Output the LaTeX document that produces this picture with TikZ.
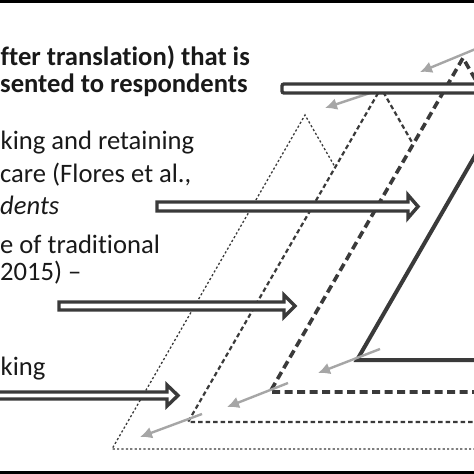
\documentclass[tikz,border=0pt]{standalone}
\usepackage{fontspec}
\setmainfont{Carlito}[Ligatures=NoCommon]
\usetikzlibrary{arrows.meta}
\definecolor{ink}{HTML}{3A3A3A}
\definecolor{greyarrow}{HTML}{A6A6A6}
\newcommand{\legendsize}{\fontsize{26.6}{31}\selectfont}
\tikzset{
  legendtext/.style={anchor=base west, inner sep=0pt, text=black!90, font=\legendsize},
  finedots/.style={ink, line width=1.3pt, dash pattern=on 2.2pt off 2.2pt},
  middash/.style={ink, line width=2.2pt, dash pattern=on 4.5pt off 3pt},
  bigdash/.style={ink, line width=3.6pt, dash pattern=on 8pt off 4.5pt},
  solidside/.style={ink, line width=4pt},
  pointer/.style={greyarrow, line width=2.4pt, -{Latex[length=12pt,width=12pt]}},
  hollow/.style={draw=ink, fill=white, line width=3.4pt, line join=miter}
}
\begin{document}
\begin{tikzpicture}[x=1pt, y=-1pt]
                 \clip (0,0) rectangle (474,474);
                 \fill[white] (0,0) rectangle (474,474);
                 % frame bars
                 \fill[black] (0,0) rectangle (474,3);
                 \fill[black] (0,471) rectangle (474,474);
                 % text
                 \node[legendtext, font=\bfseries\legendsize] (topA) at (0.5,65) {fter translation) that is};
                 \node[legendtext, font=\bfseries\legendsize] (topB) at (0,92) {sented to respondents};
                 \node[legendtext] (midA) at (0.5,149) {king and retaining};
                 \node[legendtext] (midB) at (0,182) {care (Flores et al.,};
                 \node[legendtext, font=\itshape\legendsize] (midC) at (0,214) {dents};
                 \node[legendtext] (lowA) at (0,253) {e of traditional};
                 \node[legendtext] (lowB) at (0,280) {2015) --};
                 \node[legendtext] (lastA) at (0.5,375) {king};
                 % corners and apexes
                 \coordinate (dotsL) at (112,449);
                 \coordinate (dotsT) at (305,115);
                 \coordinate (dotsR) at (335,167);
                 \coordinate (midL) at (188,422);
                 \coordinate (midT) at (381,88);
                 \coordinate (midR) at (413,144);
                 \coordinate (bigL) at (270,392);
                 \coordinate (bigT) at (463,58);
                 \coordinate (bigR) at (490,105);
                 \coordinate (solidL) at (357,360);
                 \coordinate (solidT) at (480,147);
                 % layers
                 \draw[finedots] (480,449) -- (dotsL) -- (dotsT) -- (dotsR);
                 \draw[middash] (480,422) -- (midL) -- (midT) -- (midR);
                 \draw[bigdash] (480,392) -- (bigL) -- (bigT) -- (bigR);
                 \draw[solidside] (480,360) -- (solidL) -- (solidT);
                 % grey pointers
                 \draw[pointer] (478,48) -- (420,72);
                 \draw[pointer] (385,88) -- (325,108);
                 \draw[pointer] (380,349) -- (318,373);
                 \draw[pointer] (288,383) -- (227,407);
                 \draw[pointer] (202,414) -- (140,437);
                 % hollow arrows
                 \draw[hollow, rounded corners=2pt] (282,84) rectangle (490,93);
                 \coordinate (tipA) at (418,206.5);
                 \draw[hollow] (157,202) -- (408,202) -- (408,195) -- (tipA) -- (408,218) -- (408,211) -- (157,211) -- cycle;
                 \coordinate (tipB) at (295,306);
                 \draw[hollow] (59,302) -- (284,302) -- (284,295) -- (tipB) -- (284,317) -- (284,310) -- (59,310) -- cycle;
                 \coordinate (tipC) at (178,395.5);
                 \draw[hollow] (-10,392) -- (167,392) -- (167,385) -- (tipC) -- (167,406) -- (167,399) -- (-10,399) -- cycle;
            \end{tikzpicture}
\end{document}
